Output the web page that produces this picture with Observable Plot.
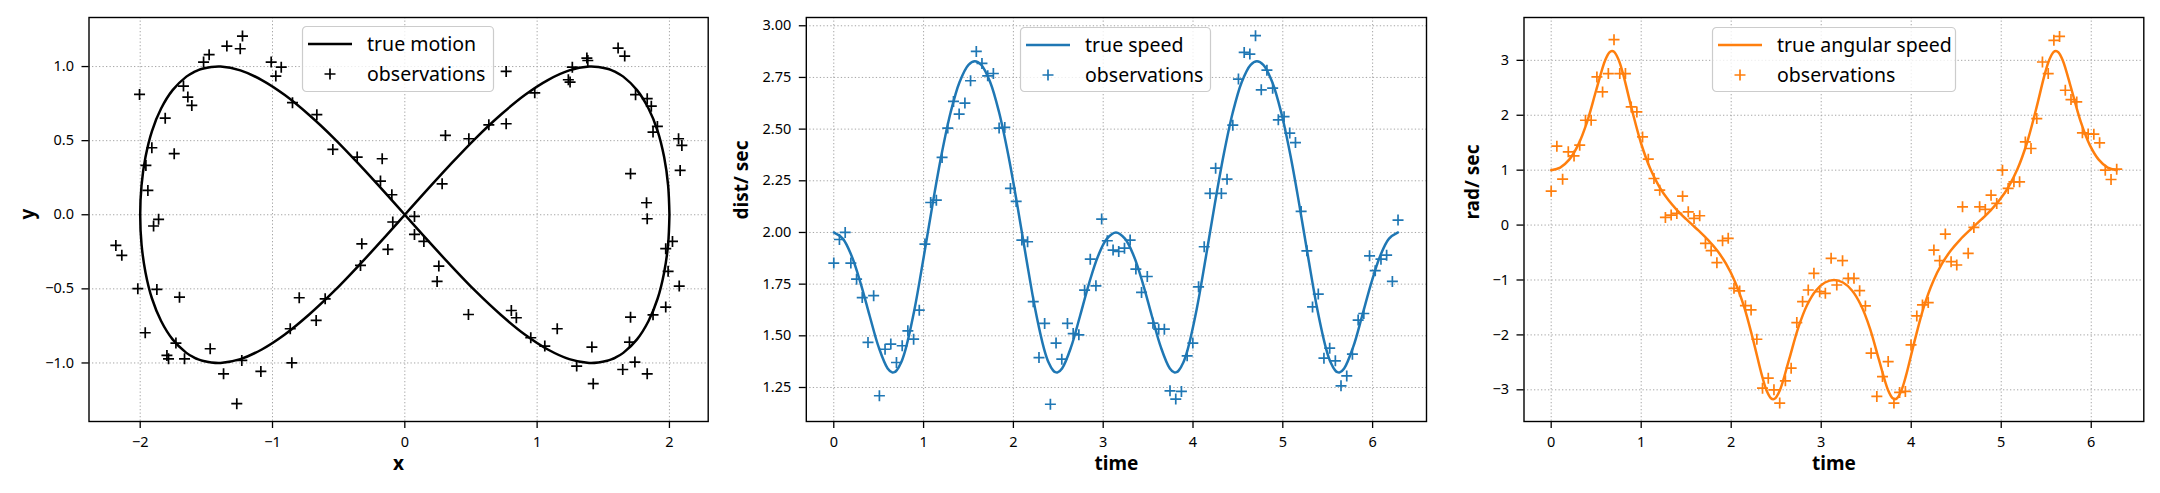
<!DOCTYPE html>
<html>
<head>
<meta charset="utf-8">
<script src="https://cdn.jsdelivr.net/npm/d3@7"></script>
<script src="https://cdn.jsdelivr.net/npm/@observablehq/plot@0.6"></script>
<style>
  body { margin: 0; background: #fff; }
  #wrap { position: relative; width: 2160px; height: 493px; background: #fff; }
  .panel { position: absolute; top: 0; }
  .legend { position: absolute; }
</style>
</head>
<body>
<div id="wrap">
  <div id="p1" class="panel" style="left:0px"></div>
  <div id="p2" class="panel" style="left:720px"></div>
  <div id="p3" class="panel" style="left:1440px"></div>
</div>
<script>
// ---------------- DATA ----------------
// Panel 1: true motion (x, y) along the path
const motionX = [2.000,1.990,1.960,1.911,1.842,1.755,1.651,1.592,1.561,1.530,1.463,1.393,1.243,1.081,0.907,0.725,0.535,0.340,0.141,0.000,
  -0.141,-0.340,-0.535,-0.725,-0.907,-1.081,-1.243,-1.393,-1.463,-1.530,-1.561,-1.592,-1.651,-1.755,-1.842,-1.911,-1.960,-1.990,-2.000,
  -1.990,-1.960,-1.911,-1.842,-1.755,-1.651,-1.592,-1.561,-1.530,-1.463,-1.393,-1.243,-1.081,-0.907,-0.725,-0.535,-0.340,-0.141,0.000,
  0.141,0.340,0.535,0.725,0.907,1.081,1.243,1.393,1.463,1.530,1.561,1.592,1.651,1.755,1.842,1.911,1.960,1.990,2.000];
const motionY = [0.000,0.199,0.389,0.565,0.717,0.841,0.932,0.964,0.976,0.985,0.997,1.000,0.974,0.909,0.808,0.675,0.516,0.335,0.141,0.000,
  -0.141,-0.335,-0.516,-0.675,-0.808,-0.909,-0.974,-1.000,-0.997,-0.985,-0.976,-0.964,-0.932,-0.841,-0.717,-0.565,-0.389,-0.199,0.000,
  0.199,0.389,0.565,0.717,0.841,0.932,0.964,0.976,0.985,0.997,1.000,0.974,0.909,0.808,0.675,0.516,0.335,0.141,0.000,
  -0.141,-0.335,-0.516,-0.675,-0.808,-0.909,-0.974,-1.000,-0.997,-0.985,-0.976,-0.964,-0.932,-0.841,-0.717,-0.565,-0.389,-0.199,0.000];

// Panel 1: observed positions
const obsX = [-1.227,-1.244,-1.345,-1.479,-1.521,-1.010,-0.934,-0.975,-0.849,-2.005,-1.673,-1.640,-1.610,-1.811,-1.912,-1.743,-1.957,-1.942,-1.861,-1.899,
  -2.184,-2.139,-2.018,-1.874,-1.703,-1.962,-1.730,-1.798,-1.786,-1.665,-1.471,-1.370,-1.232,-1.088,-1.270,-0.854,-0.866,-0.798,
  -0.665,-0.544,-0.360,-0.171,-0.184,-0.098,-0.091,0.073,0.073,0.144,-0.325,-0.128,0.257,0.244,-0.335,-0.602,-0.670,0.481,0.307,0.484,0.635,0.282,
  0.766,0.766,0.982,1.266,1.236,1.249,1.376,1.383,1.612,1.662,1.744,1.832,1.863,1.909,1.876,2.069,2.094,2.081,1.706,1.827,
  1.832,2.023,1.972,1.990,2.074,1.972,1.876,1.706,0.805,0.843,1.152,0.952,1.058,1.414,1.698,1.299,1.647,1.739,1.832,1.424];
const obsY = [1.206,1.120,1.138,1.080,1.030,1.030,0.996,0.936,0.756,0.812,0.868,0.794,0.738,0.652,0.452,0.412,0.333,0.164,-0.031,-0.076,
  -0.207,-0.274,-0.499,-0.504,-0.556,-0.796,-0.866,-0.949,-0.972,-0.972,-0.904,-1.073,-0.983,-1.057,-1.275,-0.999,-0.769,-0.560,
  0.675,0.441,0.389,0.378,0.227,0.135,-0.049,-0.011,-0.133,-0.180,-0.196,-0.234,-0.346,-0.450,-0.342,-0.567,-0.713,-0.673,0.535,0.513,0.607,0.209,
  0.967,0.614,0.823,0.996,0.911,0.895,1.057,1.041,1.125,1.071,0.810,0.783,0.733,0.596,0.558,0.513,0.468,0.299,0.277,0.081,
  -0.027,-0.180,-0.229,-0.382,-0.481,-0.623,-0.675,-0.691,-0.646,-0.695,-0.769,-0.830,-0.886,-0.893,-0.859,-1.021,-1.044,-0.994,-1.073,-1.140];

// Panels 2 & 3: true curves
const curveTime = [0,0.1,0.2,0.3,0.4,0.5,0.6,0.65,0.675,0.7,0.75,0.8,0.9,1.0,1.1,1.2,1.3,1.4,1.5,1.571,
  1.642,1.742,1.842,1.942,2.042,2.142,2.242,2.342,2.392,2.442,2.467,2.492,2.542,2.642,2.742,2.842,2.942,3.042,3.142,
  3.242,3.342,3.442,3.542,3.642,3.742,3.792,3.817,3.842,3.892,3.942,4.042,4.142,4.242,4.342,4.442,4.542,4.642,4.712,
  4.783,4.883,4.983,5.083,5.183,5.283,5.383,5.483,5.533,5.583,5.608,5.633,5.683,5.783,5.883,5.983,6.083,6.183,6.283];
const trueSpeed = [2.000,1.970,1.885,1.753,1.596,1.445,1.342,1.323,1.324,1.333,1.371,1.436,1.631,1.878,2.136,2.377,2.579,2.727,2.811,2.828,
  2.811,2.727,2.579,2.377,2.136,1.878,1.631,1.436,1.371,1.333,1.324,1.323,1.342,1.445,1.596,1.753,1.885,1.970,2.000,
  1.970,1.885,1.753,1.596,1.445,1.342,1.323,1.324,1.333,1.371,1.436,1.631,1.878,2.136,2.377,2.579,2.727,2.811,2.828,
  2.811,2.727,2.579,2.377,2.136,1.878,1.631,1.436,1.371,1.333,1.324,1.323,1.342,1.445,1.596,1.753,1.885,1.970,2.000];
const trueAngular = [1.000,1.046,1.191,1.460,1.884,2.455,3.003,3.150,3.171,3.153,3.006,2.743,2.081,1.481,1.030,0.702,0.460,0.269,0.107,0.000,
  -0.107,-0.269,-0.460,-0.702,-1.030,-1.481,-2.081,-2.743,-3.006,-3.153,-3.171,-3.150,-3.003,-2.455,-1.884,-1.460,-1.191,-1.046,-1.000,
  -1.046,-1.191,-1.460,-1.884,-2.455,-3.003,-3.150,-3.171,-3.153,-3.006,-2.743,-2.081,-1.481,-1.030,-0.702,-0.460,-0.269,-0.107,0.000,
  0.107,0.269,0.460,0.702,1.030,1.481,2.081,2.743,3.006,3.153,3.171,3.150,3.003,2.455,1.884,1.460,1.191,1.046,1.000];

// Panels 2 & 3: observations
const obsTime = [0,0.063,0.127,0.190,0.254,0.317,0.381,0.444,0.508,0.571,0.635,0.698,0.762,0.825,0.889,0.952,1.015,1.079,1.142,1.206,
  1.269,1.333,1.396,1.460,1.523,1.587,1.650,1.714,1.777,1.841,1.904,1.967,2.031,2.094,2.158,2.221,2.285,2.348,2.412,2.475,
  2.539,2.602,2.666,2.729,2.793,2.856,2.919,2.983,3.046,3.110,3.173,3.237,3.300,3.364,3.427,3.491,3.554,3.618,3.681,3.744,
  3.808,3.871,3.935,3.998,4.062,4.125,4.189,4.252,4.316,4.379,4.443,4.506,4.570,4.633,4.696,4.760,4.823,4.887,4.950,5.014,
  5.077,5.141,5.204,5.268,5.331,5.395,5.458,5.522,5.585,5.648,5.712,5.775,5.839,5.902,5.966,6.029,6.093,6.156,6.220,6.283];
const obsSpeed = [1.852,1.966,2.000,1.852,1.774,1.685,1.468,1.694,1.210,1.435,1.460,1.371,1.452,1.524,1.484,1.624,1.944,2.145,2.156,2.363,
  2.505,2.634,2.573,2.626,2.734,2.876,2.818,2.758,2.769,2.505,2.508,2.213,2.150,1.963,1.955,1.665,1.395,1.560,1.169,1.465,
  1.387,1.560,1.511,1.505,1.721,1.871,1.742,2.065,1.960,1.915,1.908,1.924,1.963,1.823,1.710,1.787,1.561,1.532,1.532,1.234,
  1.194,1.231,1.403,1.465,1.737,1.931,2.189,2.311,2.189,2.258,2.519,2.742,2.871,2.863,2.952,2.690,2.785,2.698,2.545,2.560,
  2.481,2.435,2.102,1.911,1.640,1.702,1.392,1.440,1.379,1.258,1.306,1.411,1.576,1.608,1.887,1.815,1.871,1.890,1.763,2.060];
const obsAngular = [0.618,1.436,0.836,1.333,1.260,1.455,1.909,1.909,2.697,2.424,2.758,3.376,2.758,2.758,2.152,2.061,1.606,1.200,0.848,0.636,
  0.139,0.182,0.212,0.527,0.242,0.121,0.170,-0.333,-0.467,-0.685,-0.285,-0.242,-1.152,-1.200,-1.467,-1.545,-2.079,-2.970,-2.788,-3.000,
  -3.242,-2.836,-2.606,-1.776,-1.394,-1.182,-0.879,-1.212,-1.242,-0.606,-1.091,-0.648,-0.970,-0.970,-1.194,-1.473,-2.333,-3.121,-2.758,-2.485,
  -3.242,-3.048,-3.030,-2.182,-1.655,-1.455,-1.412,-0.455,-0.648,-0.164,-0.667,-0.727,0.333,-0.515,-0.042,0.333,0.285,0.545,0.394,1.000,
  0.667,0.788,0.788,1.515,1.394,1.939,2.970,2.758,3.364,3.436,2.455,2.285,2.242,1.679,1.660,1.655,1.497,1.000,0.830,1.018];

// Tick values
const ticksX1 = [-2,-1,0,1,2];
const ticksY1 = [-1.0,-0.5,0.0,0.5,1.0];
const ticksTime = [0,1,2,3,4,5,6];
const ticksY2 = [1.25,1.50,1.75,2.00,2.25,2.50,2.75,3.00];
const ticksY3 = [-3,-2,-1,0,1,2,3];

// ---------------- DRAWING ----------------
const plusSymbol = {
  draw(ctx, size) {
    const r = Math.sqrt(size / Math.PI);
    ctx.moveTo(-r, 0); ctx.lineTo(r, 0);
    ctx.moveTo(0, -r); ctx.lineTo(0, r);
  }
};
const FONT = "'Noto Sans', 'DejaVu Sans', sans-serif";
const gridStyle = {stroke: "#a6a6a6", strokeOpacity: 1, strokeDasharray: "1.3,2.2", strokeWidth: 1};

function panel(el, o) {
  const chart = Plot.plot({
    width: 720, height: 493,
    marginLeft: o.mL, marginRight: o.mR, marginTop: 17, marginBottom: 72,
    style: {fontFamily: FONT, fontSize: "14px", color: "black", background: "transparent", overflow: "visible"},
    x: {domain: o.xDomain},
    y: {domain: o.yDomain},
    marks: [
      Plot.gridX(o.xTicks, gridStyle),
      Plot.gridY(o.yTicks, gridStyle),
      ...o.marks,
      Plot.frame({stroke: "black", strokeWidth: 1.4}),
      Plot.axisX(o.xTicks, {tickSize: 7, tickPadding: 8, strokeWidth: 1.3, tickFormat: o.xFmt, label: null, fontSize: 14.5}),
      Plot.axisY(o.yTicks, {tickSize: 7, tickPadding: 8, strokeWidth: 1.3, tickFormat: o.yFmt, label: null, fontSize: 14.5}),
      Plot.text([o.xLabel], {text: d => d, frameAnchor: "bottom", dy: 48, fontWeight: "bold", fontSize: 19}),
      Plot.text([o.yLabel], {text: d => d, frameAnchor: "left", dx: o.yDx, rotate: -90, fontWeight: "bold", fontSize: 19})
    ]
  });
  document.getElementById(el).appendChild(chart);
}

const motion = motionX.map((x, i) => ({x, y: motionY[i]}));
const obs1 = obsX.map((x, i) => ({x, y: obsY[i]}));
const speedCurve = curveTime.map((t, i) => ({t, v: trueSpeed[i]}));
const angCurve = curveTime.map((t, i) => ({t, v: trueAngular[i]}));
const speedObs = obsTime.map((t, i) => ({t, v: obsSpeed[i]}));
const angObs = obsTime.map((t, i) => ({t, v: obsAngular[i]}));

const BLUE = "#1f77b4", ORANGE = "#ff7f0e";
const LW = 2.5, MR = 5.5, MW = 1.7;

panel("p1", {
  mL: 88.5, mR: 12.3, xDomain: [-2.387, 2.293], yDomain: [-1.395, 1.331],
  xTicks: ticksX1, yTicks: ticksY1, xFmt: d3.format("d"), yFmt: d3.format(".1f"),
  xLabel: "x", yLabel: "y", yDx: -61,
  marks: [
    Plot.line(motion, {x: "x", y: "y", stroke: "black", strokeWidth: LW, curve: "catmull-rom"}),
    Plot.dot(obs1, {x: "x", y: "y", symbol: plusSymbol, r: MR, fill: "none", stroke: "black", strokeWidth: MW})
  ]
});
panel("p2", {
  mL: 85.8, mR: 14, xDomain: [-0.306, 6.6], yDomain: [1.0855, 3.040],
  xTicks: ticksTime, yTicks: ticksY2, xFmt: d3.format("d"), yFmt: d3.format(".2f"),
  xLabel: "time", yLabel: "dist/ sec", yDx: -64,
  marks: [
    Plot.line(speedCurve, {x: "t", y: "v", stroke: BLUE, strokeWidth: LW, curve: "catmull-rom"}),
    Plot.dot(speedObs, {x: "t", y: "v", symbol: plusSymbol, r: MR, fill: "none", stroke: BLUE, strokeWidth: MW})
  ]
});
panel("p3", {
  mL: 83.5, mR: 16.7, xDomain: [-0.302, 6.584], yDomain: [-3.577, 3.78],
  xTicks: ticksTime, yTicks: ticksY3, xFmt: d3.format("d"), yFmt: d3.format("d"),
  xLabel: "time", yLabel: "rad/ sec", yDx: -51,
  marks: [
    Plot.line(angCurve, {x: "t", y: "v", stroke: ORANGE, strokeWidth: LW, curve: "catmull-rom"}),
    Plot.dot(angObs, {x: "t", y: "v", symbol: plusSymbol, r: MR, fill: "none", stroke: ORANGE, strokeWidth: MW})
  ]
});

// ---------------- LEGENDS ----------------
function legend(left, top, w, h, color, label) {
  const ns = "http://www.w3.org/2000/svg";
  const svg = document.createElementNS(ns, "svg");
  svg.setAttribute("width", w + 2); svg.setAttribute("height", h + 2);
  svg.setAttribute("class", "legend");
  svg.style.left = (left - 1) + "px"; svg.style.top = (top - 1) + "px";
  const ff = FONT.replace(/'/g, '&quot;');
  svg.innerHTML = `
    <rect x="1.5" y="1.5" width="${w - 1}" height="${h - 1}" rx="4" ry="4" fill="white" fill-opacity="0.8" stroke="#cccccc" stroke-width="1.2"/>
    <line x1="7" x2="51" y1="19" y2="19" stroke="${color}" stroke-width="${LW}"/>
    <path d="M23.5,49 h11 M29,43.5 v11" stroke="${color}" stroke-width="${MW}" fill="none"/>
    <text x="66" y="19" dy="0.35em" font-family="${ff}" font-size="19.5" fill="black">${label}</text>
    <text x="66" y="49" dy="0.35em" font-family="${ff}" font-size="19.5" fill="black">observations</text>`;
  document.getElementById("wrap").appendChild(svg);
}
legend(302, 26, 192, 66, "black", "true motion");
legend(1020, 27, 191, 65, BLUE, "true speed");
legend(1712, 27, 244, 65, ORANGE, "true angular speed");
</script>
</body>
</html>
